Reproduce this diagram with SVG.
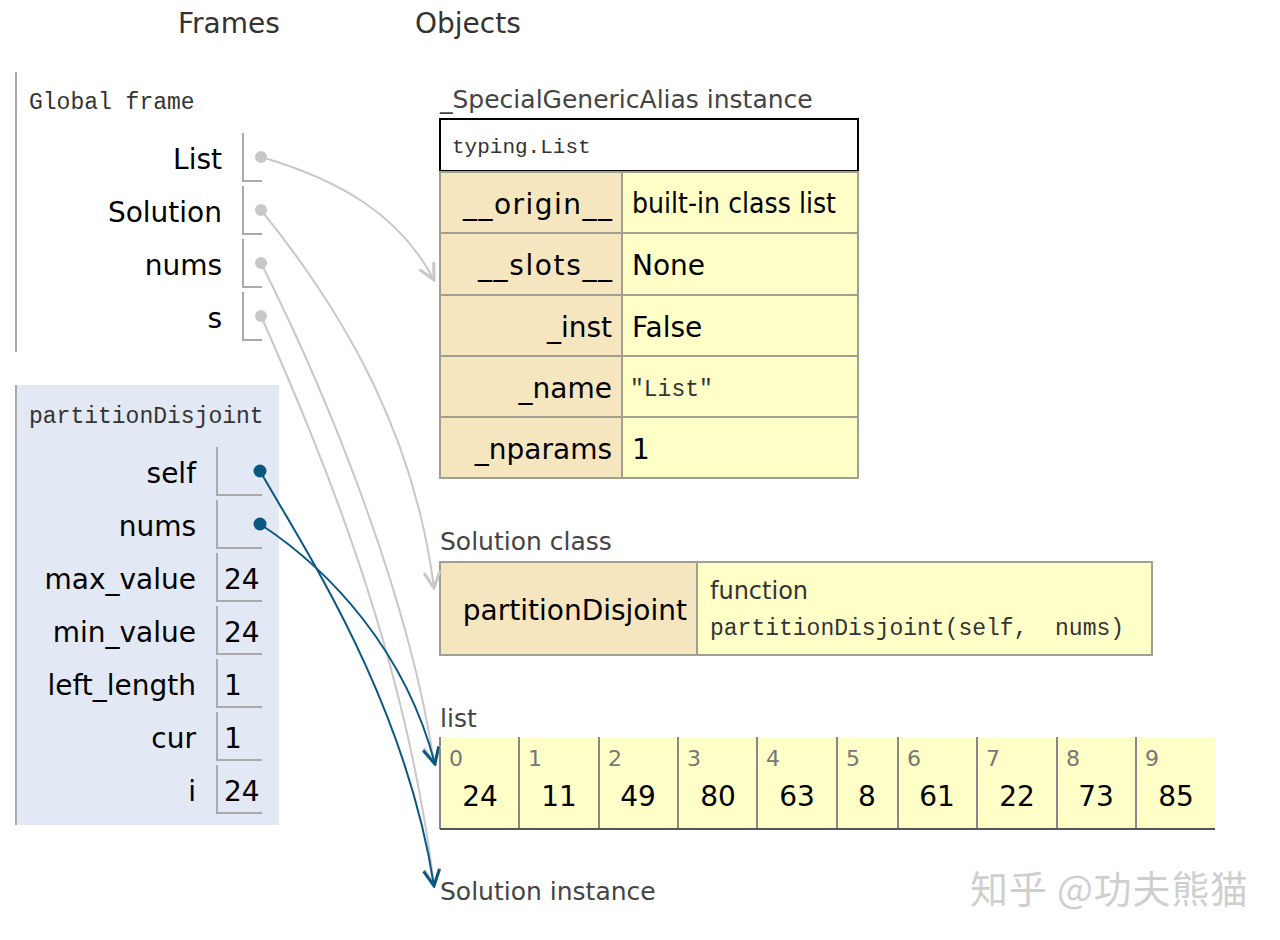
<svg xmlns="http://www.w3.org/2000/svg" width="1280" height="940" viewBox="0 0 1280 940">
<defs>
<style>
.sans{font-family:"DejaVu Sans","Noto Sans",sans-serif}
.mono{font-family:"Liberation Mono","DejaVu Sans Mono",monospace}
.hdr{font-size:28px;fill:#333}
.lbl{font-size:25px;fill:#444}
.var{font-size:28px;fill:#000;text-anchor:end}
.val{font-size:28px;fill:#000}
.key{fill:#f6e6bf;stroke:#a0a090;stroke-width:2}
.vcell{fill:#ffffc8;stroke:#a0a090;stroke-width:2}
.box{fill:none;stroke:#aaa;stroke-width:2}
.idx{font-size:22px;fill:#777}
.gc{fill:none;stroke:#c8c8c8;stroke-width:2}
.bc{fill:none;stroke:#0a5782;stroke-width:2}
</style>
<marker id="ag" viewBox="0 0 20 20" refX="18" refY="10" markerWidth="20" markerHeight="20" markerUnits="userSpaceOnUse" orient="auto">
<path d="M2,2 L18,10 L2,18" fill="none" stroke="#c8c8c8" stroke-width="3"/>
</marker>
<marker id="ab" viewBox="0 0 20 20" refX="18" refY="10" markerWidth="20" markerHeight="20" markerUnits="userSpaceOnUse" orient="auto">
<path d="M2,2 L18,10 L2,18" fill="none" stroke="#0a5782" stroke-width="3"/>
</marker>
</defs>
<rect width="1280" height="940" fill="#fff"/>
<text class="sans hdr" x="178" y="33">Frames</text>
<text class="sans hdr" x="415" y="33">Objects</text>

<g id="global-frame">
<line x1="16" y1="72" x2="16" y2="352" stroke="#aaa" stroke-width="2"/>
<text class="mono" x="29" y="109" font-size="23" fill="#333">Global frame</text>
<text class="sans var" x="222" y="169">List</text>
<path class="box" d="M243,133 V181 H262"/>
<circle cx="261" cy="157" r="6" fill="#c8c8c8"/>
<text class="sans var" x="222" y="222">Solution</text>
<path class="box" d="M243,186 V234 H262"/>
<circle cx="261" cy="210" r="6" fill="#c8c8c8"/>
<text class="sans var" x="222" y="275">nums</text>
<path class="box" d="M243,239 V287 H262"/>
<circle cx="261" cy="263" r="6" fill="#c8c8c8"/>
<text class="sans var" x="222" y="328">s</text>
<path class="box" d="M243,292 V340 H262"/>
<circle cx="261" cy="316" r="6" fill="#c8c8c8"/>
</g>

<g id="partitionDisjoint-frame">
<rect x="16" y="385" width="263" height="440" fill="#e2e9f5"/>
<line x1="16" y1="385" x2="16" y2="825" stroke="#aaa" stroke-width="2"/>
<text class="mono" x="29" y="423" font-size="23" fill="#333">partitionDisjoint</text>
<text class="sans var" x="196" y="483">self</text>
<path class="box" d="M217,447 V495 H262"/>
<text class="sans var" x="196" y="536">nums</text>
<path class="box" d="M217,500 V548 H262"/>
<text class="sans var" x="196" y="589">max_value</text>
<path class="box" d="M217,553 V601 H262"/>
<text class="sans val" x="224" y="589">24</text>
<text class="sans var" x="196" y="642">min_value</text>
<path class="box" d="M217,606 V654 H262"/>
<text class="sans val" x="224" y="642">24</text>
<text class="sans var" x="196" y="695">left_length</text>
<path class="box" d="M217,659 V707 H262"/>
<text class="sans val" x="224" y="695">1</text>
<text class="sans var" x="196" y="748">cur</text>
<path class="box" d="M217,712 V760 H262"/>
<text class="sans val" x="224" y="748">1</text>
<text class="sans var" x="196" y="801">i</text>
<path class="box" d="M217,765 V813 H262"/>
<text class="sans val" x="224" y="801">24</text>
</g>

<g id="special-generic-alias">
<text class="sans lbl" x="440" y="108">_SpecialGenericAlias instance</text>
<rect x="440" y="119" width="418" height="52" fill="#fff" stroke="#000" stroke-width="2"/>
<text class="mono" x="452" y="153" font-size="21" fill="#333">typing.List</text>
<rect class="key" x="440" y="172" width="182" height="61"/>
<rect class="vcell" x="622" y="172" width="236" height="61"/>
<rect class="key" x="440" y="233" width="182" height="62"/>
<rect class="vcell" x="622" y="233" width="236" height="62"/>
<rect class="key" x="440" y="295" width="182" height="61"/>
<rect class="vcell" x="622" y="295" width="236" height="61"/>
<rect class="key" x="440" y="356" width="182" height="61"/>
<rect class="vcell" x="622" y="356" width="236" height="61"/>
<rect class="key" x="440" y="417" width="182" height="61"/>
<rect class="vcell" x="622" y="417" width="236" height="61"/>
<text class="sans var" x="612" y="214" textLength="149" lengthAdjust="spacing">__origin__</text>
<text class="sans var" x="612" y="275" textLength="134" lengthAdjust="spacing">__slots__</text>
<text class="sans var" x="612" y="337">_inst</text>
<text class="sans var" x="612" y="398">_name</text>
<text class="sans var" x="612" y="459">_nparams</text>
<text class="sans val" x="632" y="213" font-size="25" textLength="204" lengthAdjust="spacingAndGlyphs">built-in class list</text>
<text class="sans val" x="632" y="275" font-size="27">None</text>
<text class="sans val" x="632" y="337" font-size="27">False</text>
<text class="mono" x="630" y="396" font-size="23" fill="#333">"List"</text>
<text class="sans val" x="632" y="459" font-size="27">1</text>
</g>

<g id="solution-class">
<text class="sans lbl" x="440" y="550">Solution class</text>
<rect class="key" x="440" y="562" width="257" height="93"/>
<rect class="vcell" x="697" y="562" width="455" height="93"/>
<text class="sans var" x="687" y="620">partitionDisjoint</text>
<text class="sans" x="710" y="599" font-size="24" fill="#333">function</text>
<text class="mono" x="710" y="635" font-size="23" fill="#333" xml:space="preserve">partitionDisjoint(self,  nums)</text>
</g>

<g id="list">
<text class="sans lbl" x="440" y="727">list</text>
<rect x="440" y="737" width="775" height="92" fill="#ffffc8"/>
<g stroke="#888" stroke-width="2">
<line x1="440" y1="737" x2="440" y2="829"/>
<line x1="519" y1="737" x2="519" y2="829"/>
<line x1="599" y1="737" x2="599" y2="829"/>
<line x1="678" y1="737" x2="678" y2="829"/>
<line x1="757" y1="737" x2="757" y2="829"/>
<line x1="837" y1="737" x2="837" y2="829"/>
<line x1="898" y1="737" x2="898" y2="829"/>
<line x1="977" y1="737" x2="977" y2="829"/>
<line x1="1057" y1="737" x2="1057" y2="829"/>
<line x1="1136" y1="737" x2="1136" y2="829"/>
<line x1="440" y1="829" x2="1215" y2="829" stroke="#555"/>
</g>
<g class="sans idx">
<text x="449" y="766">0</text><text x="528" y="766">1</text><text x="608" y="766">2</text><text x="687" y="766">3</text><text x="766" y="766">4</text>
<text x="846" y="766">5</text><text x="907" y="766">6</text><text x="986" y="766">7</text><text x="1066" y="766">8</text><text x="1145" y="766">9</text>
</g>
<g class="sans" font-size="28" fill="#000" text-anchor="middle">
<text x="480" y="806">24</text><text x="559" y="806">11</text><text x="638" y="806">49</text><text x="718" y="806">80</text><text x="797" y="806">63</text>
<text x="867" y="806">8</text><text x="937" y="806">61</text><text x="1017" y="806">22</text><text x="1096" y="806">73</text><text x="1176" y="806">85</text>
</g>
</g>

<g id="solution-instance">
<text class="sans lbl" x="440" y="900">Solution instance</text>
</g>

<g id="connectors">
<path class="gc" d="M261,157 C340,180 400,215 434,280" marker-end="url(#ag)"/>
<path class="gc" d="M261,210 C350,320 415,440 434,588" marker-end="url(#ag)"/>
<path class="gc" d="M261,263 C330,400 410,600 434,763" marker-end="url(#ag)"/>
<path class="gc" d="M261,316 C320,450 405,650 434,885" marker-end="url(#ag)"/>
<path class="bc" d="M260,471 C305,550 405,700 434,886" marker-end="url(#ab)"/>
<circle cx="260" cy="471" r="6.5" fill="#0a5782"/>
<path class="bc" d="M260,524 C330,570 405,650 435,764" marker-end="url(#ab)"/>
<circle cx="260" cy="524" r="6.5" fill="#0a5782"/>
</g>

<text x="970" y="903" font-family="Noto Sans CJK SC, sans-serif" font-size="38" fill="#cfcfcf" textLength="278">知乎 @功夫熊猫</text>
</svg>
